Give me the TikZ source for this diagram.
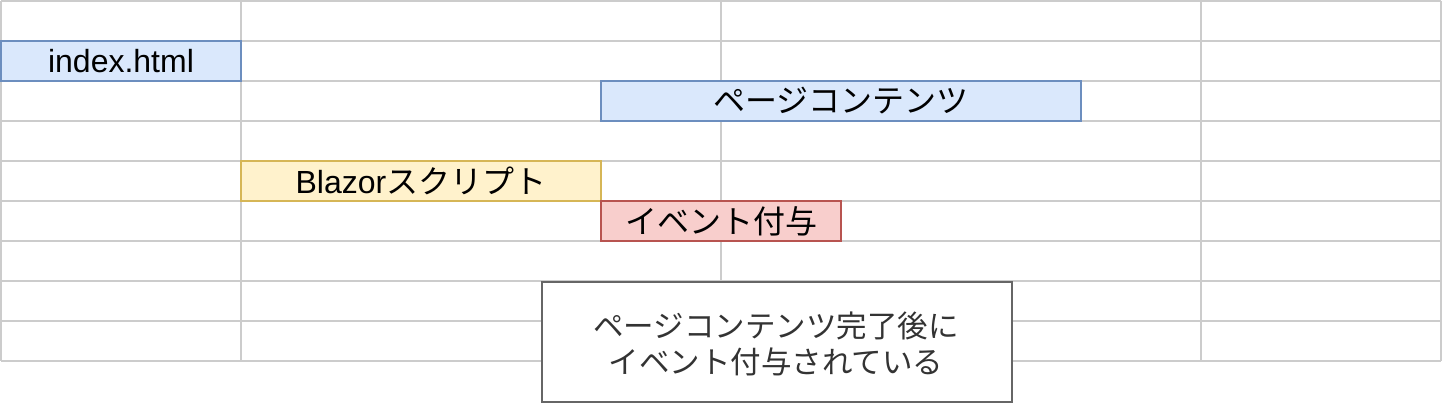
\documentclass[tikz,border=0pt]{standalone}
\usepackage{fontspec}
\setmainfont{Liberation Sans}
\newfontfamily\jp{Noto Sans CJK JP}
\definecolor{gridc}{HTML}{CCCCCC}
\definecolor{bluef}{HTML}{DAE8FC}
\definecolor{blued}{HTML}{6C8EBF}
\definecolor{yelf}{HTML}{FFF2CC}
\definecolor{yeld}{HTML}{D6B656}
\definecolor{redf}{HTML}{F8CECC}
\definecolor{redd}{HTML}{B85450}
\definecolor{noted}{HTML}{666666}
\definecolor{notet}{HTML}{333333}
\begin{document}
\begin{tikzpicture}[x=1pt,y=-1pt,
  gridline/.style={draw=gridc,line width=1.6pt},
  bar/.style={anchor=north west,inner sep=0pt,outer sep=0pt,line width=1.3pt,
    minimum height=40pt,font=\fontsize{32}{36}\selectfont,text=black},
  bluebar/.style={bar,fill=bluef,draw=blued},
  yelbar/.style={bar,fill=yelf,draw=yeld},
  redbar/.style={bar,fill=redf,draw=redd},
  notebox/.style={anchor=north west,inner sep=0pt,fill=white,draw=noted,line width=1.5pt,
    minimum width=470pt,minimum height=120pt},
  notetext/.style={align=center,font=\jp\fontsize{30.5}{35.5}\selectfont,text=notet,inner sep=0pt}]
\useasboundingbox (0,0) rectangle (1442,404);
% grid
\foreach \y in {1,41,...,361} \draw[gridline] (1,\y) -- (1441,\y);
\foreach \x in {1,241,721,1201,1441} \draw[gridline] (\x,1) -- (\x,361);
% bars
\node[bluebar,minimum width=240pt] (index) at (1,41) {index.html};
\node[bluebar,minimum width=480pt] (page) at (601,81) {\jp ページコンテンツ};
\node[yelbar,minimum width=360pt] (blazor) at (241,161) {Blazor{\jp スクリプト}};
\node[redbar,minimum width=240pt] (event) at (601,201) {\jp イベント付与};
% note
\node[notebox] (note) at (541,281) {};
\node[notetext] (notet) at (776,344) {ページコンテンツ完了後に\\イベント付与されている};
\end{tikzpicture}
\end{document}
